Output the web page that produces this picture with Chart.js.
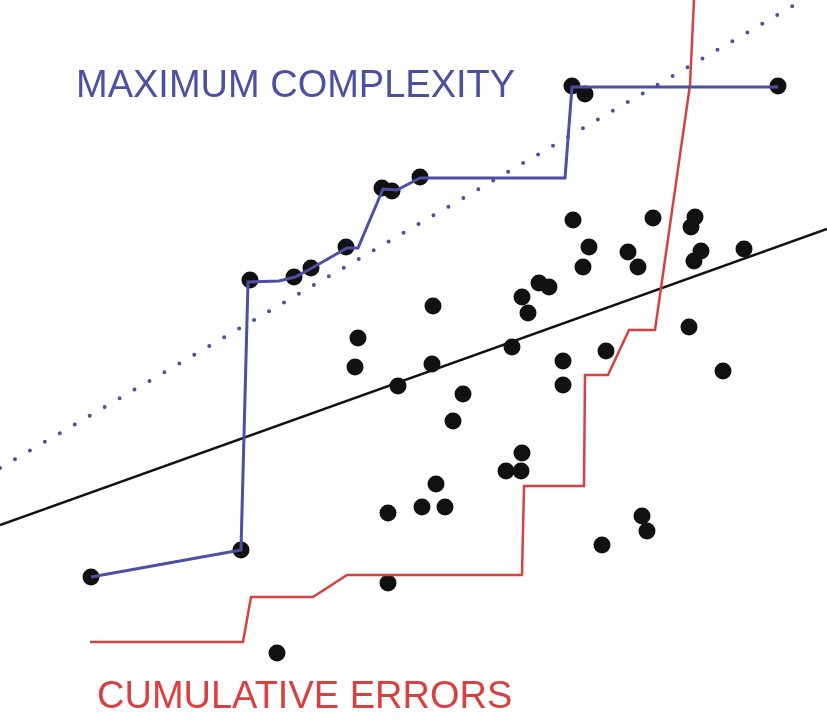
<!DOCTYPE html>
<html>
<head>
<meta charset="utf-8">
<script src="https://cdn.jsdelivr.net/npm/chart.js@4.4.1/dist/chart.umd.min.js"></script>
<style>
  html, body { margin: 0; padding: 0; background: #fff; }
  #wrap { width: 827px; height: 720px; }
</style>
</head>
<body>
<div id="wrap"><canvas id="complexityChart" width="827" height="720"></canvas></div>
<script>
// observations (x, y in the figure's own units, y grows downwards)
const obsX = [91, 241, 250, 294, 311, 346, 382, 392, 420, 572, 585, 778,
    277, 388, 388, 358, 355, 433, 398, 432, 463, 453, 512, 522, 528, 539,
    549, 583, 563, 563, 606, 522, 506, 521, 436, 422, 445, 573, 589, 653,
    628, 638, 695, 691, 701, 694, 744, 689, 723, 642, 647, 602];
const obsY = [577, 550, 280, 277, 268, 247, 188, 191, 177, 86, 94, 86,
    653, 583, 513, 338, 367, 306, 386, 364, 394, 421, 347, 297, 313, 283,
    287, 267, 361, 385, 351, 453, 471, 471, 484, 507, 507, 220, 247, 218,
    252, 267, 217, 227, 251, 261, 249, 327, 371, 516, 531, 545];

// maximum complexity envelope
const maxX = [91, 241, 248, 279, 295, 312, 347, 358, 383, 397, 420, 565, 572, 778];
const maxY = [577, 550, 282, 281, 277, 268, 248, 248, 189, 190, 178, 178, 87, 87];

// cumulative errors
const errX = [90, 243, 251, 313, 347, 522, 524, 584, 585, 608, 629, 655, 690, 694];
const errY = [642, 642, 597, 597, 575, 575, 486, 486, 375, 375, 330, 330, 85, 0];

// fitted trend and dotted bound
const fitX = [0, 827];
const fitY = [525, 229];
const boundX = [0, 827];
const boundY = [468, -14];

const labels = ['MAXIMUM COMPLEXITY', 'CUMULATIVE ERRORS'];

const BLUE = '#4b50a3';
const RED = '#d9403f';

const pts = (xs, ys) => xs.map((x, i) => ({ x: x, y: ys[i] }));

const textPlugin = {
    id: 'textLabels',
    afterDraw(chart) {
        const ctx = chart.ctx;
        const sx = chart.scales.x, sy = chart.scales.y;
        ctx.save();
        ctx.font = '38px "Liberation Sans", Arial, sans-serif';
        ctx.textBaseline = 'alphabetic';
        ctx.fillStyle = BLUE;
        ctx.fillText(labels[0], sx.getPixelForValue(76), sy.getPixelForValue(97));
        ctx.fillStyle = RED;
        ctx.fillText(labels[1], sx.getPixelForValue(97), sy.getPixelForValue(708));
        ctx.restore();
    }
};

new Chart(document.getElementById('complexityChart'), {
    type: 'scatter',
    data: {
        datasets: [
            {
                label: 'Maximum complexity',
                data: pts(maxX, maxY),
                showLine: true,
                borderColor: BLUE,
                borderWidth: 3,
                pointRadius: 0,
                tension: 0,
                order: 1
            },
            {
                label: 'Cumulative errors',
                data: pts(errX, errY),
                showLine: true,
                borderColor: RED,
                borderWidth: 2.5,
                pointRadius: 0,
                tension: 0,
                order: 2
            },
            {
                label: 'Trend',
                data: pts(fitX, fitY),
                showLine: true,
                borderColor: '#111',
                borderWidth: 2.5,
                pointRadius: 0,
                order: 3
            },
            {
                label: 'Bound',
                data: pts(boundX, boundY),
                showLine: true,
                borderColor: BLUE,
                borderWidth: 4,
                borderDash: [0, 17.3],
                borderCapStyle: 'round',
                pointRadius: 0,
                order: 4
            },
            {
                label: 'Observations',
                data: pts(obsX, obsY),
                backgroundColor: '#111',
                borderWidth: 0,
                pointRadius: 8.5,
                order: 5
            }
        ]
    },
    options: {
        responsive: false,
        animation: false,
        layout: { padding: 0, autoPadding: false },
        plugins: {
            legend: { display: false },
            tooltip: { enabled: false }
        },
        scales: {
            x: { type: 'linear', min: 0, max: 827, display: false },
            y: { type: 'linear', min: 0, max: 720, reverse: true, display: false }
        }
    },
    plugins: [textPlugin]
});
</script>
</body>
</html>
